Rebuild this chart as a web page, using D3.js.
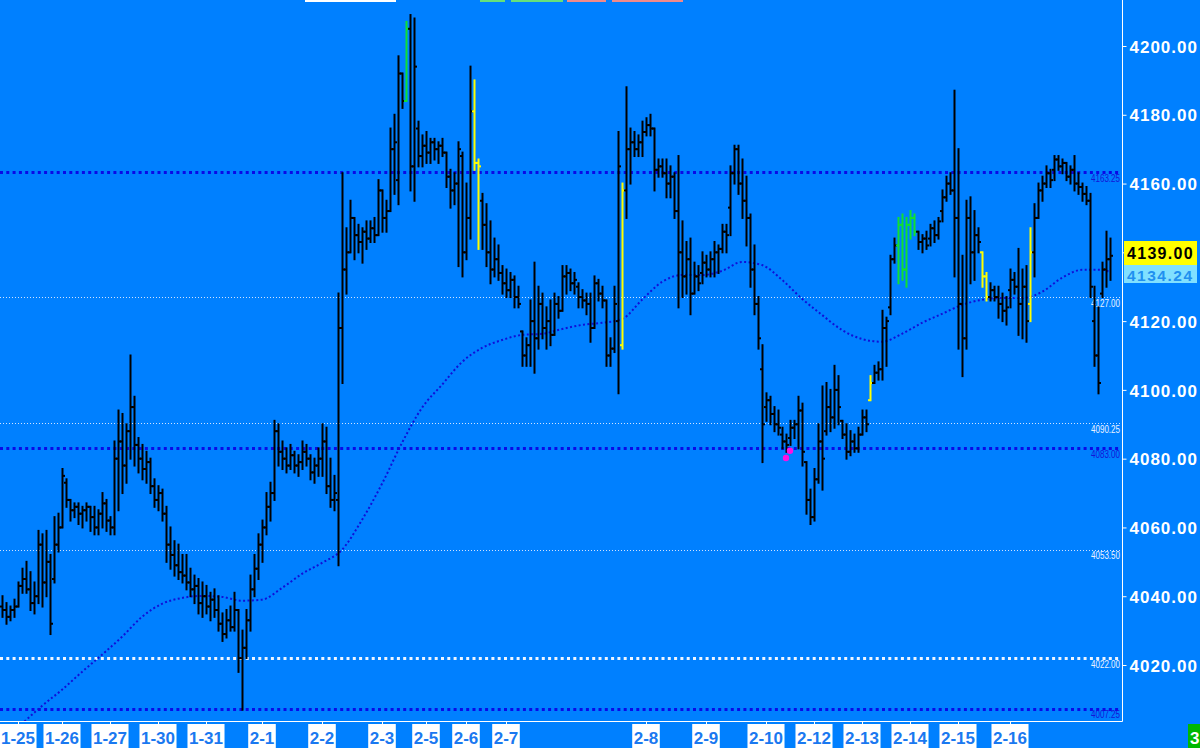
<!DOCTYPE html>
<html><head><meta charset="utf-8">
<script src="https://cdn.jsdelivr.net/npm/d3@7"></script>
<style>
html,body{margin:0;padding:0;background:#0080ff;overflow:hidden}
svg{display:block}
</style></head>
<body>
<svg id="chart" width="1200" height="748"></svg>
<script>
// ---------- DATA ----------
const opens = [4037,4036,4034,4036,4037,4043,4045,4042,4038,4040,
4055,4044,4050,4045,4055,4060,4073,4068,4065,4066,
4064,4065,4066,4063,4060,4064,4067,4062,4060,4080,
4085,4078,4088,4095,4084,4080,4077,4079,4072,4068,
4070,4064,4055,4052,4049,4047,4046,4044,4042,4043,
4038,4040,4037,4039,4036,4032,4029,4033,4031,4036,
4022,4025,4033,4042,4048,4055,4060,4066,4070,4088,
4082,4080,4078,4081,4078,4079,4082,4080,4076,4078,
4080,4085,4072,4068,4068,4118,4135,4140,4150,4145,
4143,4146,4144,4147,4145,4158,4150,4152,4170,4161,
4192,4184,4205,4165,4176,4168,4171,4169,4172,4170,
4171,4169,4162,4158,4160,4168,4140,4150,4181,4166,
4155,4148,4140,4135,4138,4134,4131,4129,4132,4127,
4117,4110,4113,4120,4115,4125,4118,4120,4116,4125,
4123,4133,4134,4131,4130,4127,4126,4125,4118,4131,
4128,4126,4110,4112,4120,4113,4158,4170,4172,4170,
4172,4175,4177,4176,4164,4165,4163,4160,4162,4152,
4140,4133,4138,4128,4133,4134,4137,4135,4138,4140,
4141,4146,4153,4163,4170,4160,4155,4150,4135,4125,
4106,4095,4097,4093,4090,4087,4085,4086,4089,4090,
4094,4079,4068,4063,4074,4085,4088,4095,4092,4100,
4091,4087,4082,4085,4083,4087,4092,4097,4102,4105,
4106,4118,4124,4138,4142,4148,4135,4148,4150,4146,
4143,4144,4144,4147,4145,4152,4156,4160,4158,4150,
4125,4115,4150,4140,4145,4140,4133,4127,4129,4127,
4125,4123,4129,4132,4130,4125,4130,4125,4140,4150,
4158,4160,4163,4164,4167,4165,4166,4162,4164,4160,
4159,4157,4155,4120,4110,4128,4135,4138];
const highs = [4040,4038,4037,4039,4044,4048,4050,4047,4044,4059,
4058,4059,4052,4063,4064,4077,4074,4068,4067,4067,
4066,4067,4066,4066,4065,4070,4068,4063,4085,4094,
4093,4090,4110,4098,4086,4084,4082,4080,4074,4072,
4071,4066,4060,4056,4055,4052,4052,4048,4046,4045,
4044,4043,4041,4042,4040,4035,4036,4037,4041,4036,
4030,4036,4046,4052,4058,4062,4070,4073,4091,4090,
4085,4083,4084,4082,4081,4085,4084,4081,4080,4083,
4090,4089,4080,4075,4128,4163,4147,4155,4150,4148,
4147,4149,4149,4150,4161,4158,4155,4176,4180,4197,
4192,4207,4209,4208,4178,4174,4175,4173,4173,4172,
4173,4169,4164,4163,4172,4169,4160,4194,4190,4167,
4157,4154,4149,4144,4142,4136,4135,4134,4133,4130,
4117,4115,4126,4137,4130,4128,4124,4126,4128,4127,
4136,4136,4135,4134,4131,4129,4128,4128,4133,4132,
4130,4126,4115,4130,4175,4160,4188,4176,4175,4174,
4178,4179,4180,4176,4167,4167,4167,4165,4163,4168,
4149,4143,4144,4137,4136,4140,4139,4140,4143,4142,
4148,4148,4165,4171,4171,4167,4162,4151,4142,4127,
4113,4099,4098,4095,4094,4089,4087,4091,4091,4098,
4096,4079,4071,4077,4090,4101,4102,4100,4107,4104,
4091,4090,4088,4087,4089,4094,4094,4104,4107,4108,
4123,4121,4139,4144,4150,4151,4150,4152,4151,4146,
4145,4146,4148,4149,4150,4158,4162,4163,4187,4170,
4139,4155,4156,4152,4147,4140,4134,4131,4130,4130,
4128,4127,4135,4134,4141,4135,4136,4147,4154,4160,
4162,4165,4164,4168,4168,4167,4166,4165,4168,4163,
4160,4159,4157,4130,4124,4137,4146,4144];
const lows = [4034,4032,4033,4034,4037,4041,4041,4036,4035,4038,
4037,4040,4029,4044,4053,4060,4066,4062,4063,4061,
4060,4062,4059,4058,4058,4060,4059,4058,4058,4065,
4070,4073,4080,4078,4076,4074,4073,4070,4066,4065,
4062,4050,4048,4046,4045,4044,4042,4040,4038,4035,
4034,4035,4033,4034,4030,4027,4028,4030,4030,4018,
4007,4022,4030,4040,4045,4050,4058,4062,4068,4078,
4077,4076,4077,4076,4075,4077,4078,4074,4073,4075,
4075,4070,4066,4065,4049,4102,4128,4140,4138,4140,
4137,4141,4143,4143,4145,4146,4146,4152,4157,4154,
4182,4184,4158,4155,4165,4165,4166,4166,4167,4166,
4168,4159,4153,4154,4136,4133,4138,4144,4164,4141,
4141,4136,4131,4133,4132,4128,4127,4127,4124,4124,
4107,4107,4107,4105,4112,4115,4112,4113,4116,4121,
4123,4128,4129,4128,4124,4124,4122,4114,4118,4126,
4124,4107,4107,4111,4099,4112,4150,4160,4168,4168,
4168,4174,4174,4158,4162,4162,4156,4156,4150,4124,
4127,4128,4122,4128,4129,4131,4133,4133,4133,4134,
4140,4140,4145,4160,4157,4150,4142,4130,4122,4112,
4079,4091,4090,4088,4087,4083,4082,4084,4086,4083,
4078,4064,4061,4062,4073,4071,4087,4088,4089,4090,
4086,4080,4081,4082,4082,4087,4088,4097,4102,4103,
4103,4107,4122,4137,4131,4132,4130,4144,4145,4141,
4140,4141,4142,4143,4144,4149,4155,4157,4133,4112,
4104,4112,4131,4132,4140,4130,4126,4126,4126,4121,
4120,4119,4124,4128,4116,4115,4114,4120,4133,4150,
4155,4159,4159,4161,4164,4163,4161,4160,4158,4157,
4155,4154,4127,4107,4099,4127,4130,4132];
const closes = [4036,4034,4036,4037,4043,4045,4042,4038,4040,4055,
4044,4050,4032,4055,4060,4075,4068,4065,4066,4064,
4065,4066,4063,4060,4064,4067,4062,4060,4080,4085,
4078,4088,4095,4084,4080,4077,4079,4072,4068,4070,
4064,4055,4052,4049,4047,4046,4044,4042,4043,4038,
4040,4037,4039,4036,4032,4029,4033,4031,4036,4022,
4025,4033,4042,4048,4055,4060,4066,4070,4088,4082,
4080,4078,4081,4078,4079,4082,4080,4076,4078,4080,
4085,4072,4068,4070,4118,4135,4140,4150,4145,4143,
4146,4144,4147,4145,4158,4150,4152,4170,4172,4192,
4184,4205,4165,4194,4168,4171,4169,4172,4170,4171,
4169,4162,4158,4160,4170,4140,4150,4181,4166,4165,
4148,4140,4135,4138,4134,4131,4129,4132,4127,4125,
4110,4113,4120,4115,4125,4118,4120,4116,4125,4123,
4133,4134,4131,4132,4127,4126,4125,4118,4131,4128,
4126,4110,4112,4125,4165,4158,4170,4172,4170,4172,
4175,4177,4176,4164,4165,4163,4160,4162,4152,4140,
4133,4138,4128,4133,4131,4137,4135,4138,4140,4141,
4146,4145,4163,4170,4160,4155,4150,4135,4125,4115,
4090,4097,4093,4090,4089,4085,4084,4089,4090,4094,
4082,4068,4063,4074,4085,4080,4095,4092,4100,4095,
4087,4082,4085,4083,4087,4092,4090,4102,4105,4106,
4118,4120,4138,4142,4148,4135,4148,4150,4146,4143,
4144,4142,4147,4145,4149,4156,4160,4158,4150,4125,
4115,4150,4140,4145,4143,4133,4127,4129,4127,4125,
4123,4124,4132,4130,4125,4130,4120,4140,4150,4158,
4160,4163,4161,4167,4165,4166,4162,4164,4160,4159,
4157,4155,4130,4110,4102,4135,4138,4139];
const yellowBars = [118,119,155,217,245,246,257];
const greenBars = [101,224,225,226,227,228];

// moving average, sampled every 5 bars (last point = final bar)
const maValues = [3997.4,4002.9,4008.1,4012.8,4018.0,4023.0,4028.2,4034.0,4037.8,4039.5,
4040.1,4039.8,4038.7,4039.0,4042.4,4046.5,4049.7,4053.5,4062.2,4072.7,
4084.6,4094.8,4101.5,4108.1,4112.2,4114.5,4116.0,4116.3,4117.7,4118.9,
4119.5,4120.6,4126.2,4131.4,4133.4,4133.4,4134.6,4137.2,4136.3,4132.0,
4126.5,4121.8,4117.4,4114.8,4114.0,4116.3,4119.5,4122.1,4124.7,4126.2,
4126.7,4126.7,4128.5,4132.6,4134.9,4134.9,4134.24];

const levelValues = [4163.25, 4127.00, 4090.25, 4083.00, 4053.50, 4022.00, 4007.25];
const levelKinds  = ["blue", "thin", "thin", "blue", "thin", "thick", "blue"];

const signalBars = [196, 197];
const signalValues = [4080.2, 4082.3];

const dateLabels = ["1-25","1-26","1-27","1-30","1-31","2-1","2-2","2-3","2-5","2-6","2-7","2-8","2-9","2-10","2-12","2-13","2-14","2-15","2-16"];
const dateBars   = [4,15,27,39,51,65,80,95,106,116,126,161,176,191,203,215,227,239,252];

const priceTicks = [4020,4040,4060,4080,4100,4120,4140,4160,4180,4200];
const lastPrice = 4139.00;
const lastMA = 4134.24;

// ---------- CHART ----------
const W = 1200, H = 748, plotR = 1122, plotB = 721;
const svg = d3.select("#chart");
svg.append("rect").attr("width", W).attr("height", H).attr("fill", "#0080ff");

const n = closes.length;
const x = d3.scaleLinear().domain([0, n - 1]).range([2, 2 + 4 * (n - 1)]);
const y = d3.scaleLinear().domain([4020, 4200]).range([665, 46]);

svg.append("defs").append("clipPath").attr("id", "plotClip")
  .append("rect").attr("x", 0).attr("y", 0).attr("width", plotR).attr("height", plotB);
const plot = svg.append("g").attr("clip-path", "url(#plotClip)");

// level lines
const levelStyle = {
  blue:  {stroke: "#0a0ae6", width: 3, dash: "3,3.3", label: "#1414d8"},
  thin:  {stroke: "#cfe2ff", width: 1, dash: "1,2",   label: "#eaf2ff"},
  thick: {stroke: "#eef5ff", width: 3, dash: "3,3.3", label: "#eaf2ff"}
};
levelValues.forEach((v, i) => {
  const st = levelStyle[levelKinds[i]];
  plot.append("line").attr("x1", 0).attr("x2", plotR - 2)
    .attr("y1", Math.round(y(v)) + 0.5).attr("y2", Math.round(y(v)) + 0.5)
    .attr("stroke", st.stroke).attr("stroke-width", st.width).attr("stroke-dasharray", st.dash);
  plot.append("text").attr("x", 1120).attr("y", y(v) + 9.5)
    .attr("text-anchor", "end").attr("font-family", "Liberation Sans Narrow, Liberation Sans, Arial, sans-serif")
    .attr("font-size", 10).attr("fill", st.label)
    .attr("textLength", 29).attr("lengthAdjust", "spacingAndGlyphs")
    .text(v.toFixed(2));
});

// moving average
const maIdx = d3.range(0, 276, 5).concat([n - 1]);
const maPts = maValues.map((v, i) => [x(maIdx[i]), y(v)]);
plot.append("path").attr("d", d3.line().curve(d3.curveMonotoneX)(maPts))
  .attr("fill", "none").attr("stroke", "#1010d8").attr("stroke-width", 2)
  .attr("stroke-dasharray", "2,2.4");

// OHLC bars
const ySet = new Set(yellowBars), gSet = new Set(greenBars);
const bars = plot.append("g");
d3.range(n).forEach(i => {
  const cx = Math.round(x(i)) + 0.5;
  const col = ySet.has(i) ? "#ffff00" : gSet.has(i) ? "#10e030" : "#000000";
  const g = bars.append("g").attr("stroke", col);
  g.append("line").attr("x1", cx).attr("x2", cx).attr("y1", y(highs[i]) - 1).attr("y2", y(lows[i]) + 1)
    .attr("stroke-width", 2);
  g.append("line").attr("x1", cx - 2.5).attr("x2", cx).attr("y1", y(opens[i])).attr("y2", y(opens[i]))
    .attr("stroke-width", 2);
  g.append("line").attr("x1", cx).attr("x2", cx + 2.5).attr("y1", y(closes[i])).attr("y2", y(closes[i]))
    .attr("stroke-width", 2);
});

// signal dots
signalBars.forEach((b, i) => {
  plot.append("circle").attr("cx", x(b)).attr("cy", y(signalValues[i])).attr("r", 3.2).attr("fill", "#ff10e0");
});

// axes frame
svg.append("line").attr("x1", plotR + 0.5).attr("x2", plotR + 0.5).attr("y1", 0).attr("y2", plotB + 0.5)
  .attr("stroke", "#ffffff").attr("stroke-width", 1);
svg.append("line").attr("x1", 0).attr("x2", plotR + 0.5).attr("y1", plotB + 0.5).attr("y2", plotB + 0.5)
  .attr("stroke", "#ffffff").attr("stroke-width", 1);

// right price axis (the label under the current-price box is hidden by it)
const yAxis = d3.axisRight(y).tickValues(priceTicks).tickFormat(d3.format(".2f")).tickSize(4).tickPadding(3);
const ya = svg.append("g").attr("transform", `translate(${plotR + 0.5},0)`).call(yAxis);
ya.select(".domain").remove();
ya.selectAll(".tick line").attr("stroke", "#ffffff");
ya.selectAll(".tick text").attr("fill", "#ffffff").attr("font-family", "Liberation Sans, Arial, sans-serif")
  .attr("font-weight", "bold").attr("font-size", 17).attr("letter-spacing", 1).attr("dy", "0.36em");
ya.selectAll(".tick").filter(d => Math.abs(y(d) - y(lastPrice)) < 16).select("text").remove();

// current price boxes
const yb = Math.round(y(lastPrice)) - 15;
svg.append("rect").attr("x", 1124).attr("y", yb).attr("width", 73).attr("height", 24).attr("fill", "#ffff00");
svg.append("text").attr("x", 1127).attr("y", yb + 18).attr("font-family", "Liberation Sans, Arial, sans-serif")
  .attr("font-weight", "bold").attr("font-size", 16).attr("letter-spacing", 1.3).attr("fill", "#000").text(lastPrice.toFixed(2));
svg.append("rect").attr("x", 1124).attr("y", yb + 24).attr("width", 73).attr("height", 18).attr("fill", "#80e0ff");
svg.append("text").attr("x", 1127).attr("y", yb + 40).attr("font-family", "Liberation Sans, Arial, sans-serif")
  .attr("font-weight", "bold").attr("font-size", 15.5).attr("letter-spacing", 1.5).attr("fill", "#2090f0").text(lastMA.toFixed(2));

// date axis
const xa = svg.append("g");
dateLabels.forEach((lab, i) => {
  const cx = x(dateBars[i]);
  const t = xa.append("text").attr("x", cx).attr("y", 744).attr("text-anchor", "middle")
    .attr("font-family", "Liberation Sans, Arial, sans-serif").attr("font-weight", "bold").attr("font-size", 17)
    .attr("fill", "#1a78f0").text(lab);
  const w = t.node().getComputedTextLength() + 3;
  xa.insert("rect", "text").attr("x", cx - w / 2).attr("y", 724).attr("width", w).attr("height", 26).attr("fill", "#ffffff");
  xa.append("line").attr("x1", Math.round(cx) + 0.5).attr("x2", Math.round(cx) + 0.5).attr("y1", plotB).attr("y2", 724)
    .attr("stroke", "#ffffff");
});

// bottom-right marker
svg.append("rect").attr("x", 1188).attr("y", 724).attr("width", 14).attr("height", 26).attr("fill", "#00b800");
svg.append("text").attr("x", 1190).attr("y", 744).attr("font-family", "Liberation Sans, Arial, sans-serif")
  .attr("font-weight", "bold").attr("font-size", 17).attr("fill", "#ffffff").text("3");

// top legend remnants
const legend = [[305, 396, "#ffffff"], [480, 505, "#66e07a"], [511, 563, "#66e07a"], [567, 606, "#f08a8a"], [612, 683, "#f08a8a"]];
legend.forEach(d => {
  svg.append("rect").attr("x", d[0]).attr("y", 0).attr("width", d[1] - d[0]).attr("height", 2).attr("fill", d[2]);
});
</script>
</body></html>
